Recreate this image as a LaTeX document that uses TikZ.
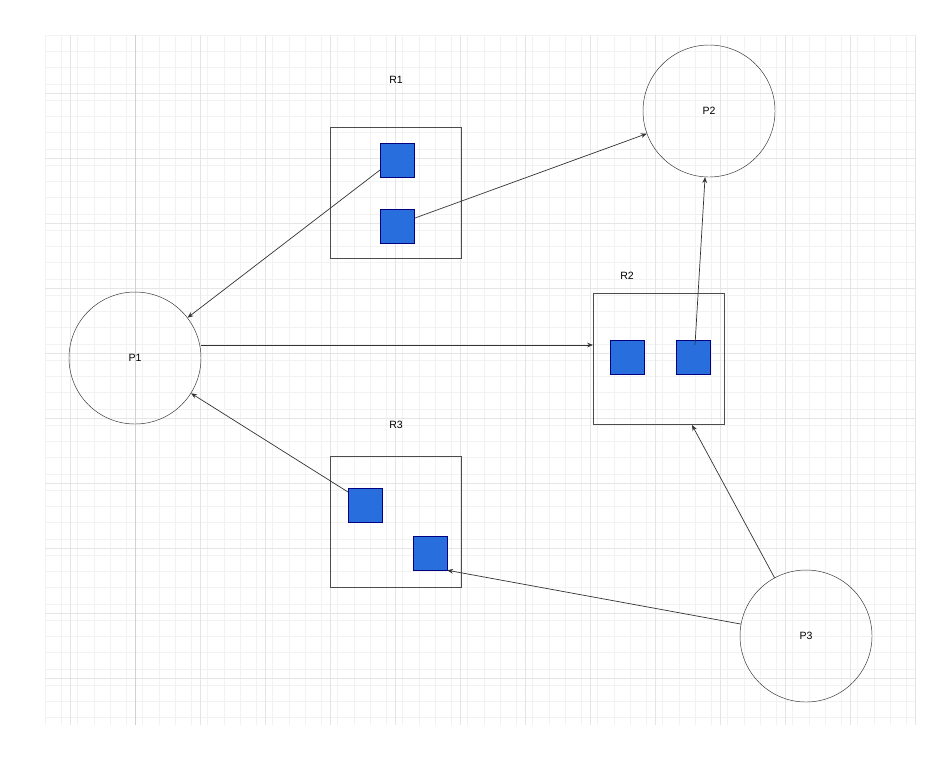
\documentclass[tikz,border=0pt]{standalone}
\usepackage{fontspec}
\setmainfont{Liberation Sans}
\usetikzlibrary{arrows.meta}
\definecolor{instblue}{RGB}{40,110,220}
\begin{document}
\begin{tikzpicture}[x=0.03cm,y=-0.03cm,
  proc/.style={draw=black!80,circle,minimum size=3.96cm,inner sep=0pt,font=\small},
  res/.style={draw=black!70,line width=0.9pt,minimum size=3.93cm,inner sep=0pt},
  inst/.style={draw=blue!50!black,fill=instblue,minimum size=1.02cm,inner sep=0pt},
  lbl/.style={font=\small},
  arr/.style={draw=black!80,-{Stealth[length=5pt,width=4pt]},line width=0.6pt}]
\useasboundingbox (0,0) rectangle (934,772);
\fill[white] (0,0) rectangle (934,772);
\foreach \x in {45,61.25,...,915} \draw[black!5] (\x,35) -- (\x,725);
\foreach \y in {35,51.25,...,725} \draw[black!5] (45,\y) -- (915,\y);
\foreach \x in {70,135,...,915} \draw[black!10] (\x,35) -- (\x,725);
\foreach \y in {93,158,...,725} \draw[black!10] (45,\y) -- (915,\y);
\draw[black!18] (135,35) -- (135,725);

\node[proc] (P1) at (135,358) {P1};
\node[proc] (P2) at (709,111) {P2};
\node[proc] (P3) at (806,636) {P3};

\node[res] (R1) at (396,193) {};
\node[lbl] (R1l) at (396,80) {R1};
\node[inst] (r11) at (397,160) {};
\node[inst] (r12) at (397,226) {};

\node[res] (R2) at (659,359) {};
\node[lbl] (R2l) at (627,276) {R2};
\node[inst] (r21) at (627,357) {};
\node[inst] (r22) at (693,357) {};

\node[res] (R3) at (396,522) {};
\node[lbl] (R3l) at (396,425) {R3};
\node[inst] (r31) at (365,505) {};
\node[inst] (r32) at (430,553) {};

\coordinate (a1) at (380,170);
\draw[arr] (a1) -- (P1);
\coordinate (a2) at (415,218);
\draw[arr] (a2) -- (P2);
\draw[arr] (P1.east |- 0,345) -- (R2.west |- 0,345);
\coordinate (a3) at (695,345);
\draw[arr] (a3) -- (P2);
\coordinate (a4) at (348,492);
\draw[arr] (a4) -- (P1);
\draw[arr] (P3) -- (r32.south east);
\draw[arr] (P3) -- (R2.south -| 692,0);
\end{tikzpicture}
\end{document}
